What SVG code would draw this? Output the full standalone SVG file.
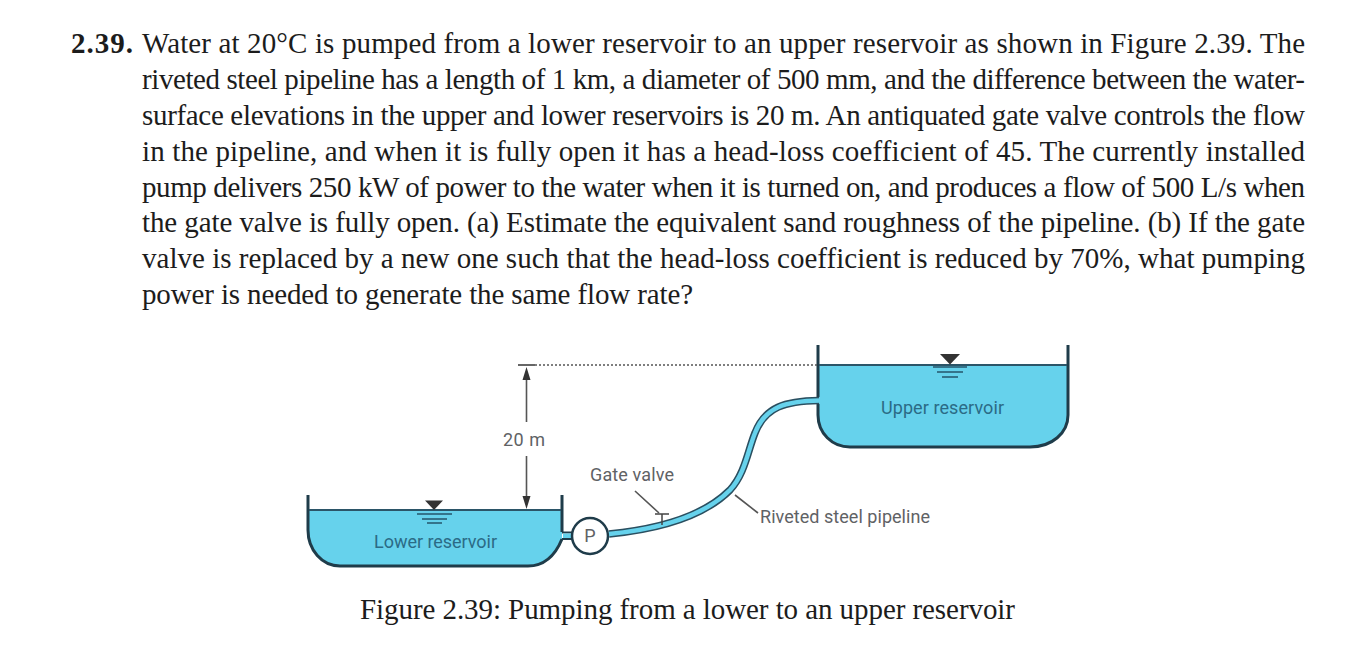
<svg xmlns="http://www.w3.org/2000/svg" width="1360" height="658" viewBox="0 0 1360 658">
<style>
.t{font-family:"Liberation Serif","Times New Roman",serif;font-size:29px;fill:#1c1c1c}
.b{font-weight:bold}
.l{font-family:Roboto,"Liberation Sans",sans-serif;font-size:18px;fill:#5f6265}
.r{font-family:Roboto,"Liberation Sans",sans-serif;font-size:18px;fill:#2b6b86}
.w{fill:#66d2ec;stroke:none}
.e{fill:none;stroke:#1f3c4a;stroke-width:3}
.g{fill:none;stroke:#555;stroke-width:1.6}
.a{fill:#333}
.s{stroke:#24566b;stroke-width:1.6;fill:none}
</style>
<rect width="1360" height="658" fill="#fff"/>
<g id="problem-text">
<text class="t b" x="71" y="53" textLength="62" lengthAdjust="spacing">2.39.</text>
<text class="t" x="142" y="53" textLength="1163" lengthAdjust="spacing">Water at 20°C is pumped from a lower reservoir to an upper reservoir as shown in Figure 2.39. The</text>
<text class="t" x="142" y="89" textLength="1163" lengthAdjust="spacing">riveted steel pipeline has a length of 1 km, a diameter of 500 mm, and the difference between the water-</text>
<text class="t" x="142" y="125" textLength="1163" lengthAdjust="spacing">surface elevations in the upper and lower reservoirs is 20 m. An antiquated gate valve controls the flow</text>
<text class="t" x="142" y="161" textLength="1163" lengthAdjust="spacing">in the pipeline, and when it is fully open it has a head-loss coefficient of 45. The currently installed</text>
<text class="t" x="142" y="197" textLength="1163" lengthAdjust="spacing">pump delivers 250 kW of power to the water when it is turned on, and produces a flow of 500 L/s when</text>
<text class="t" x="142" y="232" textLength="1163" lengthAdjust="spacing">the gate valve is fully open. (a) Estimate the equivalent sand roughness of the pipeline. (b) If the gate</text>
<text class="t" x="142" y="268" textLength="1163" lengthAdjust="spacing">valve is replaced by a new one such that the head-loss coefficient is reduced by 70%, what pumping</text>
<text class="t" x="142" y="304" textLength="551" lengthAdjust="spacing">power is needed to generate the same flow rate?</text>
</g>
<g id="lower-reservoir">
<path class="w" d="M308 510H562V539C555 556 545 566 528 566H340C322 566 308 550 308 530Z"/>
<path class="e" d="M308 495V530C308 550 322 566 340 566H528C545 566 555 556 562 539M562 495V532"/>
<path d="M309 510H561" stroke="#2b5568" stroke-width="2" fill="none"/>
<path class="a" d="M425 500.500H443L434 510Z"/>
<path class="s" d="M417 514H452M422 519H447M427 523H442"/>
<text class="r" x="374" y="548" textLength="123" lengthAdjust="spacing">Lower reservoir</text>
</g>
<g id="upper-reservoir">
<path class="w" d="M818 365H1068V415C1068 433 1052 447 1030 447H850C832 447 818 433 818 415Z"/>
<path class="e" d="M818 345V397M818 404V415C818 433 832 447 850 447H1030C1052 447 1068 433 1068 415V345"/>
<path d="M819 365H1067" stroke="#2b5568" stroke-width="2" fill="none"/>
<path class="a" d="M940 354H960L950 364.500Z"/>
<path class="s" d="M933 367H967M937 372H963M942 377H958"/>
<text class="r" x="881" y="414" textLength="123" lengthAdjust="spacing">Upper reservoir</text>
</g>
<g id="pump">
<path d="M562 532.500H574M562 539H574" stroke="#1f3c4a" stroke-width="2" fill="none"/>
<path class="w" d="M563 533.500H574V538H563Z"/>
<circle cx="590" cy="536" r="18" fill="#fff" stroke="#1f3c4a" stroke-width="2.500"/>
<text class="l" x="590" y="542" text-anchor="middle">P</text>
</g>
<g id="connectors">
<path d="M609 534C650 530 700 520 730 490C745 474 748 450 755 433C765 407 785 401 819 400.500" fill="none" stroke="#2a4f60" stroke-width="7.500"/>
<path d="M609 534C650 530 700 520 730 490C745 474 748 450 755 433C765 407 785 401 820 400.500" fill="none" stroke="#66d2ec" stroke-width="4.500"/>
<path d="M518 365H535" stroke="#333" stroke-width="1.500"/>
<path d="M535 365H818" stroke="#555" stroke-width="1.500" stroke-dasharray="2 2"/>
<path class="g" d="M526.500 378V422M526.500 456V498"/>
<path class="a" d="M526.500 367L522.500 380H530.500ZM526.500 509L522.500 496H530.500Z"/>
<path class="g" d="M635 491L659 513M735 495L758 513"/>
<path d="M655 514H669M662 514V525" stroke="#444" stroke-width="1.500" fill="none"/>
</g>
<g id="labels">
<text class="l" x="503" y="446" textLength="42" lengthAdjust="spacing">20 m</text>
<text class="l" x="590" y="481" textLength="84" lengthAdjust="spacing">Gate valve</text>
<text class="l" x="760" y="523" textLength="170" lengthAdjust="spacing">Riveted steel pipeline</text>
</g>
<g id="caption">
<text class="t" x="360" y="619" textLength="655" lengthAdjust="spacing">Figure 2.39: Pumping from a lower to an upper reservoir</text>
</g>
</svg>
